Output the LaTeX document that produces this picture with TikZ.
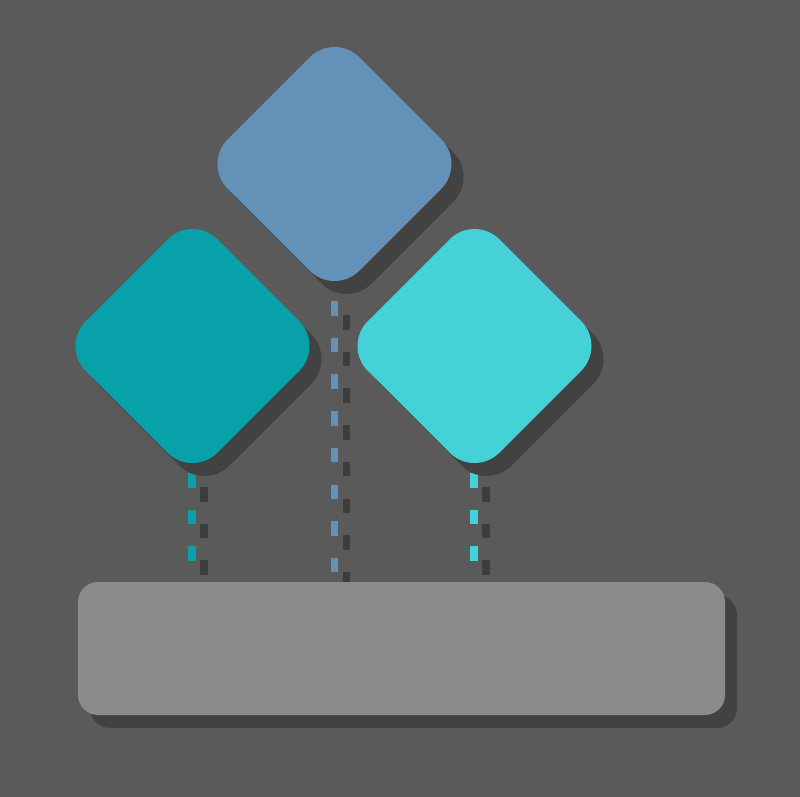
\documentclass[tikz,border=0pt]{standalone}
\usetikzlibrary{shapes.geometric}
\definecolor{bgc}{HTML}{5A5A5A}
\definecolor{topc}{HTML}{6391B7}
\definecolor{leftc}{HTML}{09A1A9}
\definecolor{rightc}{HTML}{44D1D8}
\definecolor{barc}{HTML}{8B8B8B}
\definecolor{shadowc}{HTML}{424242}
\definecolor{dashshc}{HTML}{3D3D3D}
\begin{document}
\begin{tikzpicture}[x=1pt,y=1pt,
  gem/.style={diamond, aspect=1, minimum width=263pt, minimum height=263pt,
              inner sep=0pt, outer sep=0pt, rounded corners=35pt, draw=none},
  bar/.style={rectangle, minimum width=647pt, minimum height=133pt,
              inner sep=0pt, outer sep=0pt, rounded corners=20pt, draw=none},
  dashline/.style={line width=7.3pt, line cap=butt, dash pattern=on 14.5pt off 22.2pt}]
\fill[bgc] (0,0) rectangle (800,-797);
\useasboundingbox (0,0) rectangle (800,-797);

% connector end points
\coordinate (mA) at (334.5,-301);
\coordinate (mB) at (334.5,-573);
\coordinate (lA) at (192,-473);
\coordinate (lB) at (192,-562);
\coordinate (rA) at (474,-473);
\coordinate (rB) at (474,-562);

% dashed connectors: shadows, then coloured
\draw[dashline, draw=dashshc] ([shift={(12,-14)}]mA) -- ([shift={(12,-14)}]mB);
\draw[dashline, draw=dashshc] ([shift={(12,-14)}]lA) -- ([shift={(12,-14)}]lB);
\draw[dashline, draw=dashshc] ([shift={(12,-14)}]rA) -- ([shift={(12,-14)}]rB);
\draw[dashline, draw=topc] (mA) -- (mB);
\draw[dashline, draw=leftc] (lA) -- (lB);
\draw[dashline, draw=rightc] (rA) -- (rB);

% diamonds with shadows
\node[gem, fill=shadowc] (topS) at (346.5,-177) {};
\node[gem, fill=shadowc] (leftS) at (204.5,-359) {};
\node[gem, fill=shadowc] (rightS) at (486.5,-359) {};
\node[gem, fill=topc] (top) at (334.5,-164) {};
\node[gem, fill=leftc] (left) at (192.5,-346) {};
\node[gem, fill=rightc] (right) at (474.5,-346) {};

% bottom bar with shadow
\node[bar, fill=shadowc] (barS) at (413.5,-661.5) {};
\node[bar, fill=barc] (bar) at (401.5,-648.5) {};
\end{tikzpicture}
\end{document}
